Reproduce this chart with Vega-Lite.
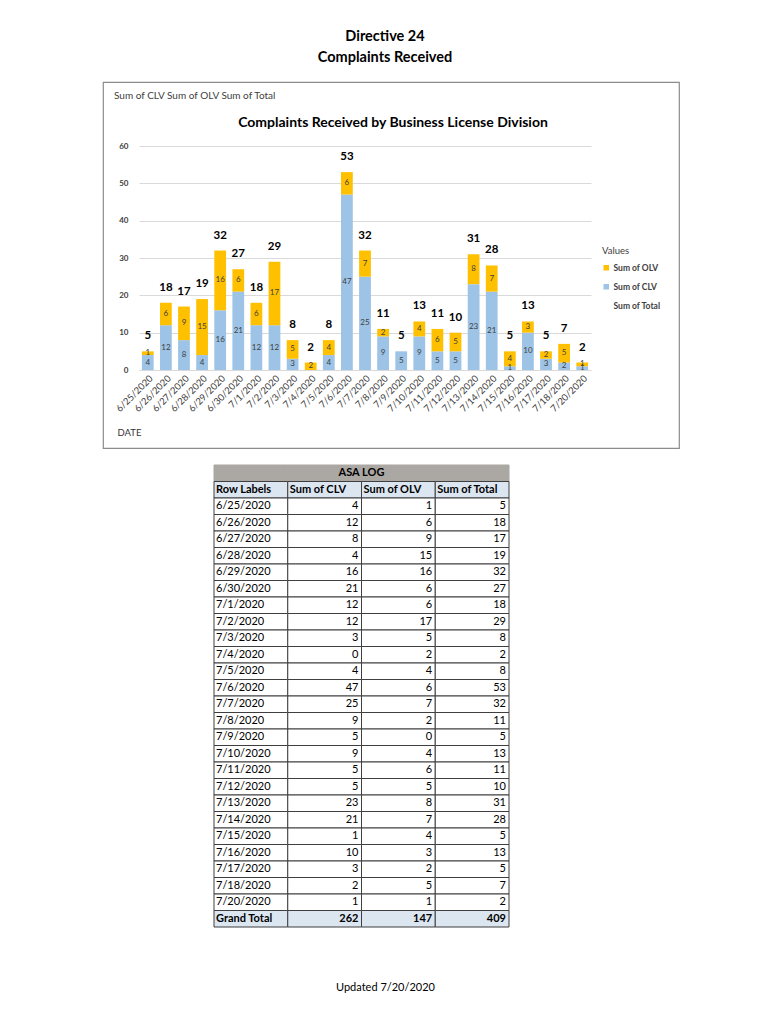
{
  "$schema": "https://vega.github.io/schema/vega-lite/v6.json",
  "padding": {"left": 102, "top": 28, "right": 90, "bottom": 0},
  "spacing": 0,
  "config": {"font": "Lato", "view": {"stroke": null}},
  "title": {"text": ["Directive 24", "Complaints Received"], "fontSize": 14.5, "fontWeight": "bold", "lineHeight": 21, "anchor": "middle", "dx": -6, "offset": 16, "color": "#000000"},
  "resolve": {"scale": {"color": "independent"}},
  "datasets": {
    "log": [
      {"date": "6/25/2020", "clv": 4, "olv": 1, "total": 5},
      {"date": "6/26/2020", "clv": 12, "olv": 6, "total": 18},
      {"date": "6/27/2020", "clv": 8, "olv": 9, "total": 17},
      {"date": "6/28/2020", "clv": 4, "olv": 15, "total": 19},
      {"date": "6/29/2020", "clv": 16, "olv": 16, "total": 32},
      {"date": "6/30/2020", "clv": 21, "olv": 6, "total": 27},
      {"date": "7/1/2020", "clv": 12, "olv": 6, "total": 18},
      {"date": "7/2/2020", "clv": 12, "olv": 17, "total": 29},
      {"date": "7/3/2020", "clv": 3, "olv": 5, "total": 8},
      {"date": "7/4/2020", "clv": 0, "olv": 2, "total": 2},
      {"date": "7/5/2020", "clv": 4, "olv": 4, "total": 8},
      {"date": "7/6/2020", "clv": 47, "olv": 6, "total": 53},
      {"date": "7/7/2020", "clv": 25, "olv": 7, "total": 32},
      {"date": "7/8/2020", "clv": 9, "olv": 2, "total": 11},
      {"date": "7/9/2020", "clv": 5, "olv": 0, "total": 5},
      {"date": "7/10/2020", "clv": 9, "olv": 4, "total": 13},
      {"date": "7/11/2020", "clv": 5, "olv": 6, "total": 11},
      {"date": "7/12/2020", "clv": 5, "olv": 5, "total": 10},
      {"date": "7/13/2020", "clv": 23, "olv": 8, "total": 31},
      {"date": "7/14/2020", "clv": 21, "olv": 7, "total": 28},
      {"date": "7/15/2020", "clv": 1, "olv": 4, "total": 5},
      {"date": "7/16/2020", "clv": 10, "olv": 3, "total": 13},
      {"date": "7/17/2020", "clv": 3, "olv": 2, "total": 5},
      {"date": "7/18/2020", "clv": 2, "olv": 5, "total": 7},
      {"date": "7/20/2020", "clv": 1, "olv": 1, "total": 2},
      {"date": "Grand Total", "clv": 262, "olv": 147, "total": 409}
    ],
    "cols": [
      {"col": "date", "name": "Row Labels"},
      {"col": "clv", "name": "Sum of CLV"},
      {"col": "olv", "name": "Sum of OLV"},
      {"col": "total", "name": "Sum of Total"}
    ]
  },
  "vconcat": [
    {
      "width": 576,
      "height": 366,
      "view": {"stroke": "#8c8c8c", "strokeWidth": 1.2},
      "title": {"text": "Sum of CLV Sum of OLV Sum of Total", "anchor": "start", "offset": -19, "dx": 11, "fontSize": 10, "fontWeight": "normal", "color": "#404040"},
      "data": {"name": "log"},
      "transform": [{"filter": "datum.date !== 'Grand Total'"}],
      "encoding": {
        "x": {"field": "date", "type": "nominal", "sort": null,
          "scale": {"domain": ["6/25/2020","6/26/2020","6/27/2020","6/28/2020","6/29/2020","6/30/2020","7/1/2020","7/2/2020","7/3/2020","7/4/2020","7/5/2020","7/6/2020","7/7/2020","7/8/2020","7/9/2020","7/10/2020","7/11/2020","7/12/2020","7/13/2020","7/14/2020","7/15/2020","7/16/2020","7/17/2020","7/18/2020","7/20/2020"], "range": [36, 488], "paddingInner": 0.35, "paddingOuter": 0.16},
          "axis": {"orient": "bottom", "offset": -78, "labelAngle": -45, "labelAlign": "right", "labelBaseline": "top", "labelFontSize": 9.5, "labelColor": "#404040", "ticks": false, "domain": false, "labelPadding": 3, "grid": false, "labelOverlap": false,
            "title": "DATE", "titleX": 14, "titleY": 62, "titleAlign": "left", "titleBaseline": "middle", "titleFontSize": 9.5, "titleFontWeight": "normal", "titleColor": "#333333"}}
      },
      "layer": [
        {
          "transform": [
            {"fold": ["clv", "olv"], "as": ["series", "val"]},
            {"stack": "val", "groupby": ["date"], "sort": [{"field": "series", "order": "ascending"}], "as": ["y0", "y1"]}
          ],
          "mark": {"type": "bar"},
          "encoding": {
            "y": {"field": "y0", "type": "quantitative",
              "scale": {"domain": [0, 60], "range": [288, 64], "nice": false, "zero": true},
              "axis": {"values": [0, 10, 20, 30, 40, 50, 60], "offset": -29, "ticks": false, "domain": false, "labelPadding": 4, "labelFontSize": 8, "labelFontWeight": "bold", "labelColor": "#404040", "grid": true, "gridColor": "#d9d9d9",
                "title": "Complaints Received by Business License Division", "titleAngle": 0, "titleX": 260.5, "titleY": 40, "titleAlign": "center", "titleBaseline": "middle", "titleFontSize": 14, "titleFontWeight": "bold", "titleColor": "#000000"}},
            "y2": {"field": "y1"},
            "color": {"field": "series", "type": "nominal",
              "scale": {"domain": ["olv", "clv", "total"], "range": ["#FFC000", "#9DC3E6", "rgba(0,0,0,0)"]},
              "legend": {"orient": "none", "legendX": 499, "legendY": 164, "title": "Values", "titleFontSize": 9.5, "titleFontWeight": "normal", "titleColor": "#404040", "titlePadding": 8, "labelFontSize": 8.5, "labelFontWeight": "bold", "labelColor": "#404040", "symbolType": "square", "symbolSize": 30, "symbolStrokeWidth": 0, "rowPadding": 10, "labelOffset": 3,
                "labelExpr": "{'olv':'Sum of OLV','clv':'Sum of CLV','total':'Sum of Total'}[datum.label]"}}
          }
        },
        {
          "transform": [
            {"fold": ["clv", "olv"], "as": ["series", "val"]},
            {"stack": "val", "groupby": ["date"], "sort": [{"field": "series", "order": "ascending"}], "as": ["y0", "y1"]},
            {"filter": "datum.val > 0"},
            {"calculate": "(datum.y0 + datum.y1) / 2", "as": "mid"}
          ],
          "mark": {"type": "text", "fontSize": 8, "color": "#404040", "baseline": "middle"},
          "encoding": {
            "y": {"field": "mid", "type": "quantitative", "scale": {"domain": [0, 60], "range": [288, 64], "nice": false, "zero": true}},
            "text": {"field": "val", "type": "quantitative"}
          }
        },
        {
          "mark": {"type": "text", "fontSize": 11.5, "fontWeight": "bold", "color": "#000000", "baseline": "alphabetic", "dy": -12},
          "encoding": {
            "y": {"field": "total", "type": "quantitative", "scale": {"domain": [0, 60], "range": [288, 64], "nice": false, "zero": true}},
            "text": {"field": "total", "type": "quantitative"}
          }
        }
      ]
    },
    {
      "width": 576,
      "height": 576,
      "layer": [
        {
          "data": {"name": "cols"},
          "mark": {"type": "rect", "fill": "#aba7a3", "stroke": "#aba7a3", "strokeWidth": 1},
          "encoding": {
            "x": {"field": "col", "type": "nominal", "sort": null, "scale": {"domain": ["date", "clv", "olv", "total"], "range": [111, 406], "paddingInner": 0, "paddingOuter": 0},
              "axis": {"labels": false, "ticks": false, "domain": false, "grid": false, "title": "Updated 7/20/2020", "titleX": 282, "titleY": -38, "titleFontSize": 11, "titleFontWeight": "normal", "titleColor": "#000000", "titleAlign": "center", "titleBaseline": "middle"}},
            "y": {"datum": "ASA LOG", "type": "nominal", "scale": {"domain": ["ASA LOG","Row Labels","6/25/2020","6/26/2020","6/27/2020","6/28/2020","6/29/2020","6/30/2020","7/1/2020","7/2/2020","7/3/2020","7/4/2020","7/5/2020","7/6/2020","7/7/2020","7/8/2020","7/9/2020","7/10/2020","7/11/2020","7/12/2020","7/13/2020","7/14/2020","7/15/2020","7/16/2020","7/17/2020","7/18/2020","7/20/2020","Grand Total"], "range": [16, 478], "paddingInner": 0, "paddingOuter": 0}, "axis": null}
          }
        },
        {
          "data": {"values": [{"label": "ASA LOG"}]},
          "mark": {"type": "text", "fontSize": 11, "fontWeight": "bold", "color": "#000000", "align": "center", "baseline": "middle"},
          "encoding": {
            "x": {"datum": "olv", "type": "nominal", "bandPosition": 0, "scale": {"domain": ["date", "clv", "olv", "total"], "range": [111, 406], "paddingInner": 0, "paddingOuter": 0}},
            "y": {"field": "label", "type": "nominal", "scale": {"domain": ["ASA LOG","Row Labels","6/25/2020","6/26/2020","6/27/2020","6/28/2020","6/29/2020","6/30/2020","7/1/2020","7/2/2020","7/3/2020","7/4/2020","7/5/2020","7/6/2020","7/7/2020","7/8/2020","7/9/2020","7/10/2020","7/11/2020","7/12/2020","7/13/2020","7/14/2020","7/15/2020","7/16/2020","7/17/2020","7/18/2020","7/20/2020","Grand Total"], "range": [16, 478], "paddingInner": 0, "paddingOuter": 0}, "axis": null},
            "text": {"field": "label"}
          }
        },
        {
          "data": {"name": "cols"},
          "mark": {"type": "rect", "fill": "#dce6f1", "stroke": "#3f3f3f", "strokeWidth": 1},
          "encoding": {
            "x": {"field": "col", "type": "nominal", "sort": null, "scale": {"domain": ["date", "clv", "olv", "total"], "range": [111, 406], "paddingInner": 0, "paddingOuter": 0}},
            "y": {"datum": "Row Labels", "type": "nominal", "scale": {"domain": ["ASA LOG","Row Labels","6/25/2020","6/26/2020","6/27/2020","6/28/2020","6/29/2020","6/30/2020","7/1/2020","7/2/2020","7/3/2020","7/4/2020","7/5/2020","7/6/2020","7/7/2020","7/8/2020","7/9/2020","7/10/2020","7/11/2020","7/12/2020","7/13/2020","7/14/2020","7/15/2020","7/16/2020","7/17/2020","7/18/2020","7/20/2020","Grand Total"], "range": [16, 478], "paddingInner": 0, "paddingOuter": 0}, "axis": null}
          }
        },
        {
          "data": {"name": "cols"},
          "mark": {"type": "text", "fontSize": 11, "fontWeight": "bold", "color": "#000000", "align": "left", "baseline": "middle", "dx": 2},
          "encoding": {
            "x": {"field": "col", "type": "nominal", "sort": null, "bandPosition": 0, "scale": {"domain": ["date", "clv", "olv", "total"], "range": [111, 406], "paddingInner": 0, "paddingOuter": 0}},
            "y": {"datum": "Row Labels", "type": "nominal", "scale": {"domain": ["ASA LOG","Row Labels","6/25/2020","6/26/2020","6/27/2020","6/28/2020","6/29/2020","6/30/2020","7/1/2020","7/2/2020","7/3/2020","7/4/2020","7/5/2020","7/6/2020","7/7/2020","7/8/2020","7/9/2020","7/10/2020","7/11/2020","7/12/2020","7/13/2020","7/14/2020","7/15/2020","7/16/2020","7/17/2020","7/18/2020","7/20/2020","Grand Total"], "range": [16, 478], "paddingInner": 0, "paddingOuter": 0}, "axis": null},
            "text": {"field": "name"}
          }
        },
        {
          "data": {"name": "log"},
          "transform": [{"fold": ["date", "clv", "olv", "total"], "as": ["col", "val"]}],
          "mark": {"type": "rect", "stroke": "#3f3f3f", "strokeWidth": 1},
          "encoding": {
            "x": {"field": "col", "type": "nominal", "sort": null, "scale": {"domain": ["date", "clv", "olv", "total"], "range": [111, 406], "paddingInner": 0, "paddingOuter": 0}},
            "y": {"field": "date", "type": "nominal", "sort": null, "scale": {"domain": ["ASA LOG","Row Labels","6/25/2020","6/26/2020","6/27/2020","6/28/2020","6/29/2020","6/30/2020","7/1/2020","7/2/2020","7/3/2020","7/4/2020","7/5/2020","7/6/2020","7/7/2020","7/8/2020","7/9/2020","7/10/2020","7/11/2020","7/12/2020","7/13/2020","7/14/2020","7/15/2020","7/16/2020","7/17/2020","7/18/2020","7/20/2020","Grand Total"], "range": [16, 478], "paddingInner": 0, "paddingOuter": 0}, "axis": null},
            "fill": {"condition": {"test": "datum.date === 'Grand Total'", "value": "#dce6f1"}, "value": "#ffffff"}
          }
        },
        {
          "data": {"name": "log"},
          "transform": [{"filter": "datum.date !== 'Grand Total'"}],
          "mark": {"type": "text", "fontSize": 11, "color": "#000000", "align": "left", "baseline": "middle", "dx": 2},
          "encoding": {
            "x": {"datum": "date", "type": "nominal", "bandPosition": 0, "scale": {"domain": ["date", "clv", "olv", "total"], "range": [111, 406], "paddingInner": 0, "paddingOuter": 0}},
            "y": {"field": "date", "type": "nominal", "sort": null, "scale": {"domain": ["ASA LOG","Row Labels","6/25/2020","6/26/2020","6/27/2020","6/28/2020","6/29/2020","6/30/2020","7/1/2020","7/2/2020","7/3/2020","7/4/2020","7/5/2020","7/6/2020","7/7/2020","7/8/2020","7/9/2020","7/10/2020","7/11/2020","7/12/2020","7/13/2020","7/14/2020","7/15/2020","7/16/2020","7/17/2020","7/18/2020","7/20/2020","Grand Total"], "range": [16, 478], "paddingInner": 0, "paddingOuter": 0}, "axis": null},
            "text": {"field": "date"}
          }
        },
        {
          "data": {"name": "log"},
          "transform": [{"filter": "datum.date !== 'Grand Total'"}, {"fold": ["clv", "olv", "total"], "as": ["col", "val"]}],
          "mark": {"type": "text", "fontSize": 11, "color": "#000000", "align": "right", "baseline": "middle", "dx": -3},
          "encoding": {
            "x": {"field": "col", "type": "nominal", "sort": null, "bandPosition": 1, "scale": {"domain": ["date", "clv", "olv", "total"], "range": [111, 406], "paddingInner": 0, "paddingOuter": 0}},
            "y": {"field": "date", "type": "nominal", "sort": null, "scale": {"domain": ["ASA LOG","Row Labels","6/25/2020","6/26/2020","6/27/2020","6/28/2020","6/29/2020","6/30/2020","7/1/2020","7/2/2020","7/3/2020","7/4/2020","7/5/2020","7/6/2020","7/7/2020","7/8/2020","7/9/2020","7/10/2020","7/11/2020","7/12/2020","7/13/2020","7/14/2020","7/15/2020","7/16/2020","7/17/2020","7/18/2020","7/20/2020","Grand Total"], "range": [16, 478], "paddingInner": 0, "paddingOuter": 0}, "axis": null},
            "text": {"field": "val", "type": "quantitative"}
          }
        },
        {
          "data": {"name": "log"},
          "transform": [{"filter": "datum.date === 'Grand Total'"}],
          "mark": {"type": "text", "fontSize": 11, "fontWeight": "bold", "color": "#000000", "align": "left", "baseline": "middle", "dx": 2},
          "encoding": {
            "x": {"datum": "date", "type": "nominal", "bandPosition": 0, "scale": {"domain": ["date", "clv", "olv", "total"], "range": [111, 406], "paddingInner": 0, "paddingOuter": 0}},
            "y": {"field": "date", "type": "nominal", "sort": null, "scale": {"domain": ["ASA LOG","Row Labels","6/25/2020","6/26/2020","6/27/2020","6/28/2020","6/29/2020","6/30/2020","7/1/2020","7/2/2020","7/3/2020","7/4/2020","7/5/2020","7/6/2020","7/7/2020","7/8/2020","7/9/2020","7/10/2020","7/11/2020","7/12/2020","7/13/2020","7/14/2020","7/15/2020","7/16/2020","7/17/2020","7/18/2020","7/20/2020","Grand Total"], "range": [16, 478], "paddingInner": 0, "paddingOuter": 0}, "axis": null},
            "text": {"field": "date"}
          }
        },
        {
          "data": {"name": "log"},
          "transform": [{"filter": "datum.date === 'Grand Total'"}, {"fold": ["clv", "olv", "total"], "as": ["col", "val"]}],
          "mark": {"type": "text", "fontSize": 11, "fontWeight": "bold", "color": "#000000", "align": "right", "baseline": "middle", "dx": -3},
          "encoding": {
            "x": {"field": "col", "type": "nominal", "sort": null, "bandPosition": 1, "scale": {"domain": ["date", "clv", "olv", "total"], "range": [111, 406], "paddingInner": 0, "paddingOuter": 0}},
            "y": {"field": "date", "type": "nominal", "sort": null, "scale": {"domain": ["ASA LOG","Row Labels","6/25/2020","6/26/2020","6/27/2020","6/28/2020","6/29/2020","6/30/2020","7/1/2020","7/2/2020","7/3/2020","7/4/2020","7/5/2020","7/6/2020","7/7/2020","7/8/2020","7/9/2020","7/10/2020","7/11/2020","7/12/2020","7/13/2020","7/14/2020","7/15/2020","7/16/2020","7/17/2020","7/18/2020","7/20/2020","Grand Total"], "range": [16, 478], "paddingInner": 0, "paddingOuter": 0}, "axis": null},
            "text": {"field": "val", "type": "quantitative"}
          }
        }
      ]
    }
  ]
}
